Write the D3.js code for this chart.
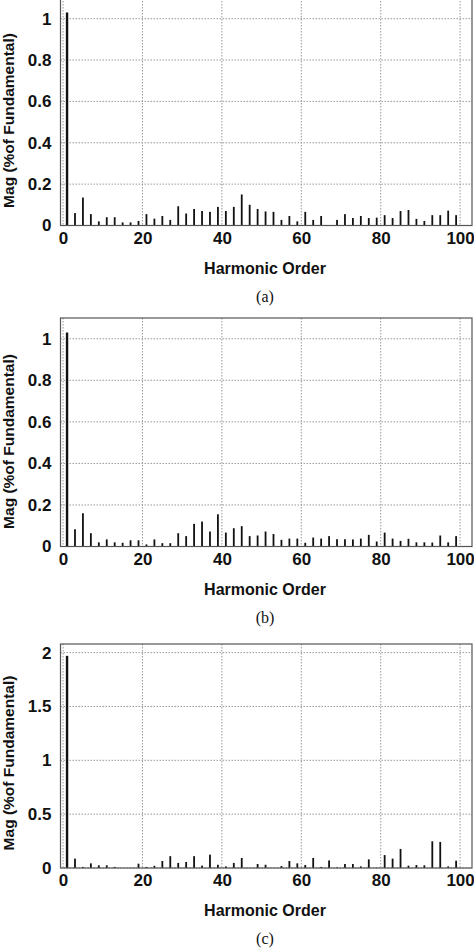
<!DOCTYPE html>
<html>
<head>
<meta charset="utf-8">
<style>
  body { margin: 0; background: #fff; }
  text { font-family: "Liberation Sans", Arial, sans-serif; }
</style>
</head>
<body>
<div id="chart"></div>
<script src="https://cdn.jsdelivr.net/npm/d3@7"></script>
<script>
// odd harmonics 1..99
var harmonics = d3.range(1, 100, 2);
var magA = [1.03, 0.06, 0.135, 0.055, 0.02, 0.04, 0.04, 0.015, 0.015, 0.022,
  0.055, 0.033, 0.046, 0.027, 0.093, 0.058, 0.08, 0.07, 0.066, 0.09,
  0.07, 0.09, 0.15, 0.1, 0.08, 0.068, 0.066, 0.027, 0.046, 0.02,
  0.066, 0.027, 0.046, 0, 0.027, 0.055, 0.036, 0.046, 0.036, 0.038,
  0.05, 0.036, 0.07, 0.075, 0.032, 0.022, 0.05, 0.05, 0.072, 0.05];
var magB = [1.03, 0.083, 0.16, 0.064, 0.02, 0.034, 0.02, 0.018, 0.03, 0.03,
  0.01, 0.034, 0.016, 0.016, 0.064, 0.05, 0.109, 0.12, 0.072, 0.155,
  0.067, 0.088, 0.098, 0.05, 0.053, 0.072, 0.06, 0.032, 0.038, 0.038,
  0.018, 0.043, 0.038, 0.05, 0.035, 0.035, 0.034, 0.038, 0.056, 0.024,
  0.067, 0.038, 0.027, 0.037, 0.02, 0.02, 0.019, 0.053, 0.02, 0.05];
var magC = [1.97, 0.087, 0.01, 0.043, 0.025, 0.025, 0.01, 0, 0, 0.04,
  0.01, 0.02, 0.065, 0.11, 0.047, 0.056, 0.11, 0.022, 0.124, 0.03,
  0.015, 0.047, 0.093, 0, 0.037, 0.03, 0, 0.018, 0.065, 0.043,
  0.028, 0.093, 0.01, 0.07, 0.006, 0.037, 0.037, 0.015, 0.08, 0.003,
  0.12, 0.087, 0.177, 0.022, 0.028, 0.025, 0.248, 0.242, 0.015, 0.068];

var xTicks = [0, 20, 40, 60, 80, 100];
var panels = [
  { vals: magA, top: -2, bottom: 225.5, yMax: 1.1, ticks: [0, 0.2, 0.4, 0.6, 0.8, 1], cap: '(a)' },
  { vals: magB, top: 318, bottom: 546.5, yMax: 1.1, ticks: [0, 0.2, 0.4, 0.6, 0.8, 1], cap: '(b)' },
  { vals: magC, top: 644, bottom: 868, yMax: 2.08, ticks: [0, 0.5, 1, 1.5, 2], cap: '(c)' }
];

var left = 60.5, right = 472;
var svg = d3.select('#chart').append('svg')
  .attr('width', 474).attr('height', 950);

var x = d3.scaleLinear().domain([-0.65, 103]).range([left, right]);

panels.forEach(function (p) {
  var y = d3.scaleLinear().domain([0, p.yMax]).range([p.bottom, p.top]);
  var g = svg.append('g');

  // grid
  g.selectAll('.gx').data(xTicks).enter().append('line')
    .attr('x1', function (d) { return x(d); }).attr('x2', function (d) { return x(d); })
    .attr('y1', p.top).attr('y2', p.bottom)
    .attr('stroke', '#999').attr('stroke-dasharray', '1.5,1.5');
  g.selectAll('.gy').data(p.ticks).enter().append('line')
    .attr('x1', left).attr('x2', right)
    .attr('y1', function (d) { return y(d); }).attr('y2', function (d) { return y(d); })
    .attr('stroke', '#999').attr('stroke-dasharray', '1.5,1.5');

  // bars
  g.selectAll('.bar').data(p.vals).enter().append('rect')
    .attr('x', function (d, i) { return x(harmonics[i]) - (i === 0 ? 1.2 : 0.9); })
    .attr('width', function (d, i) { return i === 0 ? 2.4 : 1.8; })
    .attr('y', function (d) { return y(d); })
    .attr('height', function (d) { return p.bottom - y(d); })
    .attr('fill', '#111');

  // frame
  g.append('rect').attr('x', left).attr('y', p.top)
    .attr('width', right - left).attr('height', p.bottom - p.top)
    .attr('fill', 'none').attr('stroke', '#555').attr('stroke-width', 1.2);

  // axes
  var xa = g.append('g').attr('transform', 'translate(0,' + p.bottom + ')')
    .call(d3.axisBottom(x).tickValues(xTicks).tickSize(0).tickPadding(6).tickFormat(d3.format('d')));
  var ya = g.append('g').attr('transform', 'translate(' + left + ',0)')
    .call(d3.axisLeft(y).tickValues(p.ticks).tickSize(0).tickPadding(9).tickFormat(function (d) { return String(d); }));
  [xa, ya].forEach(function (a) {
    a.select('.domain').remove();
    a.selectAll('text').attr('font-size', 17).attr('font-weight', 'bold').attr('fill', '#111')
      .style('font-family', '"Liberation Sans", Arial, sans-serif');
  });

  g.append('text').attr('x', 265).attr('y', p.bottom + 48)
    .attr('text-anchor', 'middle').attr('font-size', 16).attr('font-weight', 'bold')
    .attr('fill', '#111').text('Harmonic Order');
  g.append('text').attr('x', 265).attr('y', p.bottom + 76)
    .attr('text-anchor', 'middle').attr('font-size', 16)
    .style('font-family', '"Liberation Serif", "Times New Roman", serif')
    .attr('fill', '#111').text(p.cap);

  g.append('text')
    .attr('transform', 'translate(14,' + (p.bottom - 105) + ') rotate(-90)')
    .attr('text-anchor', 'middle').attr('font-size', 15.5).attr('font-weight', 'bold')
    .attr('fill', '#111').text('Mag (%of Fundamental)');
});
</script>
</body>
</html>
